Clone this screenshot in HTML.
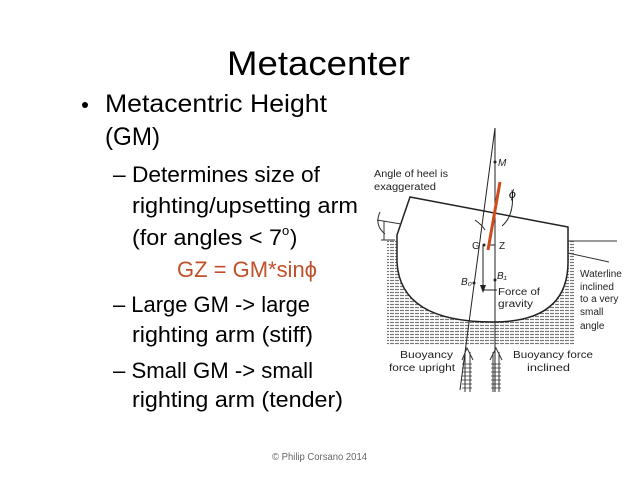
<!DOCTYPE html>
<html><head><meta charset="utf-8"><style>
html,body{margin:0;padding:0;background:#fff;width:638px;height:479px;overflow:hidden}
svg{display:block}
.t{font-family:"Liberation Sans",sans-serif;fill:#000}
.d{font-family:"Liberation Sans",sans-serif;fill:#222;font-size:10px}
</style></head><body>
<svg width="638" height="479" viewBox="0 0 638 479" xmlns="http://www.w3.org/2000/svg">
<defs>
<pattern id="w" width="5" height="3" patternUnits="userSpaceOnUse">
<rect width="5" height="3" fill="#fff"/><line x1="0" y1="1.5" x2="4" y2="1.5" stroke="#777" stroke-width="1.2"/>
</pattern>
</defs>
<text class="t" x="227" y="75" font-size="34" textLength="183" lengthAdjust="spacingAndGlyphs">Metacenter</text>
<circle cx="85" cy="105" r="3" fill="#000"/>
<text class="t" x="105" y="112" font-size="25" textLength="222" lengthAdjust="spacingAndGlyphs">Metacentric Height</text>
<text class="t" x="105" y="145" font-size="25" textLength="55" lengthAdjust="spacingAndGlyphs">(GM)</text>
<text class="t" x="113" y="182" font-size="22" textLength="207" lengthAdjust="spacingAndGlyphs">– Determines size of</text>
<text class="t" x="132" y="213" font-size="22" textLength="226" lengthAdjust="spacingAndGlyphs">righting/upsetting arm</text>
<text class="t" x="132" y="245" font-size="22" textLength="150" lengthAdjust="spacingAndGlyphs">(for angles &lt; 7</text>
<text class="t" x="282" y="235" font-size="13">o</text>
<text class="t" x="290" y="245" font-size="22">)</text>
<text x="177" y="277" font-size="22" fill="#c0502a" font-family="Liberation Sans,sans-serif" textLength="140" lengthAdjust="spacingAndGlyphs">GZ = GM*sinϕ</text>
<text class="t" x="113" y="312" font-size="22" textLength="197" lengthAdjust="spacingAndGlyphs">– Large GM -&gt; large</text>
<text class="t" x="132" y="342" font-size="22" textLength="181" lengthAdjust="spacingAndGlyphs">righting arm (stiff)</text>
<text class="t" x="113" y="378" font-size="22" textLength="200" lengthAdjust="spacingAndGlyphs">– Small GM -&gt; small</text>
<text class="t" x="132" y="407" font-size="22" textLength="211" lengthAdjust="spacingAndGlyphs">righting arm (tender)</text>
<text x="272" y="460" font-size="10" fill="#666" font-family="Liberation Sans,sans-serif" textLength="95" lengthAdjust="spacingAndGlyphs">© Philip Corsano 2014</text>

<rect x="387" y="240" width="188" height="105" fill="url(#w)"/>
<path d="M410,197 L568,227 L568,262 Q568,322 493,322 Q400,322 397,262 L397,235 Z" fill="#fff" stroke="#222" stroke-width="1.5"/>
<line x1="568" y1="241" x2="617" y2="241" stroke="#333"/>
<line x1="568" y1="253" x2="609" y2="262" stroke="#333"/>
<line x1="377" y1="220" x2="401" y2="224" stroke="#333"/>
<path d="M380,212 Q374,225 385,234" fill="none" stroke="#333"/>
<line x1="384" y1="221" x2="384" y2="240" stroke="#333"/>
<line x1="381" y1="240" x2="395" y2="240" stroke="#333"/>
<line x1="495" y1="128" x2="460" y2="390" stroke="#222" stroke-width="1"/>
<line x1="495" y1="158" x2="495" y2="392" stroke="#222" stroke-width="1"/>
<line x1="495" y1="128" x2="495" y2="160" stroke="#222"/>
<line x1="488" y1="245" x2="495" y2="245" stroke="#222"/>
<line x1="483" y1="245" x2="483" y2="290" stroke="#222"/>
<polygon points="480,285 486,285 483,293" fill="#222"/>
<line x1="483" y1="290" x2="497" y2="290" stroke="#222"/>
<line x1="500" y1="182" x2="488" y2="250" stroke="#d04a1c" stroke-width="3"/>
<path d="M475,220 Q482,225 485,230" fill="none" stroke="#222"/>
<path d="M512,190 Q515,215 502,226" fill="none" stroke="#222"/>
<g stroke="#333" fill="none">
<path d="M465,352 L465,392 M470,352 L470,392 M462,360 L467,348 L473,360"/>
<path d="M493,352 L493,392 M499,352 L499,392 M490,360 L496,348 L502,360"/>
<path d="M462,364h10M462,368h10M462,372h10M462,376h10M462,380h10M462,384h10M462,388h10" stroke-width="0.7"/>
<path d="M491,364h10M491,368h10M491,372h10M491,376h10M491,380h10M491,384h10M491,388h10" stroke-width="0.7"/>
</g>
<g fill="#222">
<circle cx="495" cy="162" r="1.5"/><circle cx="484" cy="245" r="1.5"/><circle cx="495" cy="280" r="1.5"/><circle cx="474" cy="283" r="1.5"/>
</g>
<text class="d" x="374" y="177" textLength="74" lengthAdjust="spacingAndGlyphs">Angle of heel is</text>
<text class="d" x="374" y="190" textLength="62" lengthAdjust="spacingAndGlyphs">exaggerated</text>
<text class="d" x="498" y="166" font-style="italic">M</text>
<text x="509" y="198" font-size="13" font-family="Liberation Serif,serif" font-style="italic">ϕ</text>
<text class="d" x="472" y="249" font-size="9">G</text>
<text class="d" x="499" y="249" font-size="9">Z</text>
<text class="d" x="461" y="285" font-style="italic">B₀</text>
<text class="d" x="497" y="279" font-style="italic">B₁</text>
<text class="d" x="498" y="295" textLength="42" lengthAdjust="spacingAndGlyphs">Force of</text>
<text class="d" x="498" y="307" textLength="35" lengthAdjust="spacingAndGlyphs">gravity</text>
<text class="d" x="580" y="277" font-size="9">Waterline</text>
<text class="d" x="580" y="290" font-size="9">inclined</text>
<text class="d" x="580" y="302" font-size="9">to a very</text>
<text class="d" x="580" y="315" font-size="9">small</text>
<text class="d" x="580" y="329" font-size="9">angle</text>
<text class="d" x="400" y="358" textLength="53" lengthAdjust="spacingAndGlyphs">Buoyancy</text>
<text class="d" x="389" y="371" textLength="66" lengthAdjust="spacingAndGlyphs">force upright</text>
<text class="d" x="513" y="358" textLength="80" lengthAdjust="spacingAndGlyphs">Buoyancy force</text>
<text class="d" x="527" y="371" textLength="43" lengthAdjust="spacingAndGlyphs">inclined</text>
</svg>
</body></html>
